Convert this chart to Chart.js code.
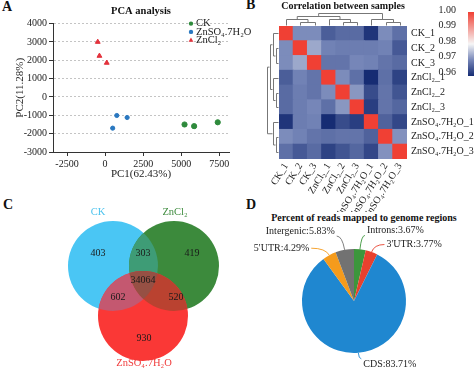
<!DOCTYPE html>
<html>
<head>
<meta charset="utf-8">
<script src="https://cdn.jsdelivr.net/npm/chart.js@4.4.0/dist/chart.umd.min.js"></script>
<style>
  html, body { margin: 0; padding: 0; background: #fff; }
  body { width: 474px; height: 372px; position: relative; overflow: hidden; font-family: 'Liberation Serif', serif; }
  canvas { position: absolute; }
  .tag { position: absolute; font: bold 14px 'Liberation Serif', serif; color: #111; line-height: 14px; }
  .ttl { position: absolute; font: bold 10px 'Liberation Serif', serif; color: #111; text-align: center; white-space: nowrap; }
</style>
</head>
<body>
<div class="tag" style="left:2px;top:0px">A</div>
<div class="tag" style="left:246px;top:-2px">B</div>
<div class="tag" style="left:3px;top:198px">C</div>
<div class="tag" style="left:246px;top:198px">D</div>
<div class="ttl" style="left:264px;top:212px;width:200px">Percent of reads mapped to genome regions</div>

<canvas id="pca" width="255" height="190" style="left:0;top:0"></canvas>
<canvas id="corr" width="219" height="212" style="left:255px;top:0"></canvas>
<canvas id="venn" width="237" height="182" style="left:0;top:190px"></canvas>
<canvas id="pie" width="230" height="167" style="left:244px;top:205px"></canvas>

<script>
// ---------- data ----------
// A: PCA scores
const PCA_GROUPS = ['CK', 'ZnSO₄.7H₂O', 'ZnCl₂'];
const CK_PTS = [{ x: 5220, y: -1500 }, { x: 5850, y: -1590 }, { x: 7400, y: -1380 }];
const ZNSO4_PTS = [{ x: 770, y: -1010 }, { x: 1450, y: -1120 }, { x: 500, y: -1700 }];
const ZNCL2_PTS = [{ x: -480, y: 3000 }, { x: -370, y: 2240 }, { x: 110, y: 1860 }];
const PC1_TICKS = [-2500, 0, 2500, 5000, 7500];
const PC2_TICKS = [4000, 3000, 2000, 1000, 0, -1000, -2000, -3000];

// B: sample correlation
const SAMPLES = ['CK_1', 'CK_2', 'CK_3', 'ZnCl₂_1', 'ZnCl₂_2', 'ZnCl₂_3',
  'ZnSO₄.7H₂O_1', 'ZnSO₄.7H₂O_2', 'ZnSO₄.7H₂O_3'];
const CORR = [
  [1.0000, 0.9705, 0.9705, 0.9655, 0.9670, 0.9670, 0.9610, 0.9705, 0.9675],
  [0.9705, 1.0000, 0.9730, 0.9695, 0.9690, 0.9690, 0.9690, 0.9695, 0.9650],
  [0.9705, 0.9730, 1.0000, 0.9680, 0.9680, 0.9700, 0.9695, 0.9680, 0.9670],
  [0.9655, 0.9695, 0.9680, 1.0000, 0.9705, 0.9675, 0.9600, 0.9675, 0.9625],
  [0.9670, 0.9690, 0.9680, 0.9705, 1.0000, 0.9715, 0.9635, 0.9680, 0.9645],
  [0.9670, 0.9690, 0.9700, 0.9675, 0.9715, 1.0000, 0.9620, 0.9680, 0.9665],
  [0.9610, 0.9690, 0.9695, 0.9600, 0.9635, 0.9620, 1.0000, 0.9660, 0.9630],
  [0.9705, 0.9695, 0.9680, 0.9675, 0.9680, 0.9680, 0.9660, 1.0000, 0.9710],
  [0.9675, 0.9650, 0.9670, 0.9625, 0.9645, 0.9665, 0.9630, 0.9710, 1.0000]
];
const CB_TICKS = [1.00, 0.99, 0.98, 0.97, 0.96];
const CLUSTER_TREE = [[[0, [1, 2]], [3, [4, 5]]], [6, [7, 8]]];

// C: venn counts
const VENN_SETS = ['CK', 'ZnCl₂', 'ZnSO₄.7H₂O'];
const VENN_REGIONS = ['CK', 'CK∩ZnCl₂', 'ZnCl₂', 'all', 'CK∩ZnSO₄', 'ZnCl₂∩ZnSO₄', 'ZnSO₄'];
const VENN_COUNTS = [403, 303, 419, 34064, 602, 520, 930];

// D: read distribution
const PIE_LABELS = ['Introns', "3'UTR", 'CDS', "5'UTR", 'Intergenic'];
const PIE_VALUES = [3.67, 3.77, 83.71, 4.29, 5.83];

// ---------- layout / style ----------
const SERIF = "'Liberation Serif', 'DejaVu Serif', serif";
const INK = '#222';
// venn geometry (diagram units, ~px)
const VENN_CIRCLES = [{ x: -30, y: 17, r: 45 }, { x: 31, y: 17, r: 45 }, { x: 0, y: -33, r: 45 }];
const VENN_SET_POS = [{ x: -45, y: 71 }, { x: 32, y: 71 }, { x: 1, y: -80 }];
const VENN_REGION_POS = [{ x: -45, y: 30 }, { x: 0, y: 30 }, { x: 49, y: 30 }, { x: 0, y: 3 },
  { x: -25, y: -14 }, { x: 33, y: -14 }, { x: 1, y: -55 }];
const VENN_FILL = ['rgb(74,198,244)', 'rgb(60,138,60)', 'rgb(250,56,54)'];
const VENN_PAIR_FILL = { '0-1': 'rgb(62,156,118)', '0-2': 'rgb(196,88,112)', '1-2': 'rgb(186,66,48)' };
const VENN_ALL_FILL = 'rgb(150,80,68)';
const VENN_TEXT = ['#4cc3ee', '#3d8b3d', '#f03a3a'];
const PIE_COLORS = ['#3c963c', '#e8412e', '#1f87d0', '#f59b1c', '#727272'];

function corrColor(v) {
  // navy -> mid blue -> white -> red
  const stops = [[0.96, [22, 44, 115]], [0.97, [118, 134, 184]], [0.98, [246, 246, 246]], [1.00, [240, 64, 52]]];
  let k = 0;
  while (k < stops.length - 2 && v > stops[k + 1][0]) k++;
  const [v0, a] = stops[k], [v1, b] = stops[k + 1];
  const t = Math.max(0, Math.min(1, (v - v0) / (v1 - v0)));
  return 'rgb(' + a.map((c, i) => Math.round(c + (b[i] - c) * t)).join(',') + ')';
}

Chart.defaults.font.family = SERIF;
Chart.defaults.color = INK;

// ---------- A: PCA scatter ----------
const pcaLegend = {
  id: 'pcaLegend',
  afterDraw(chart) {
    const { ctx, chartArea } = chart;
    ctx.save();
    ctx.font = '10.5px ' + SERIF;
    ctx.textBaseline = 'middle';
    chart.data.datasets.forEach((ds, i) => {
      const x = chartArea.right - 38, y = chartArea.top + i * 8.3;
      ctx.fillStyle = ds.backgroundColor;
      ctx.beginPath();
      if (ds.pointStyle === 'triangle') {
        ctx.moveTo(x, y - 2.6); ctx.lineTo(x + 2.4, y + 1.6); ctx.lineTo(x - 2.4, y + 1.6); ctx.closePath();
      } else {
        ctx.arc(x, y, 2.2, 0, Math.PI * 2);
      }
      ctx.fill();
      ctx.fillStyle = INK;
      ctx.fillText(ds.label, x + 5, y);
    });
    ctx.restore();
  }
};

new Chart(document.getElementById('pca'), {
  type: 'scatter',
  data: {
    datasets: [
      { label: PCA_GROUPS[0], data: CK_PTS, backgroundColor: '#2e8a3c', borderColor: '#2e8a3c', pointStyle: 'circle', pointRadius: 2.6 },
      { label: PCA_GROUPS[1], data: ZNSO4_PTS, backgroundColor: '#2a78c0', borderColor: '#2a78c0', pointStyle: 'circle', pointRadius: 2.1 },
      { label: PCA_GROUPS[2], data: ZNCL2_PTS, backgroundColor: '#e3323c', borderColor: '#e3323c', pointStyle: 'triangle', pointRadius: 2.8 }
    ]
  },
  options: {
    responsive: false, animation: false, events: [],
    layout: { padding: { top: 0, right: 26, bottom: 0, left: 0 } },
    plugins: {
      legend: { display: false }, tooltip: { enabled: false },
      title: { display: true, text: 'PCA analysis', fullSize: false, color: '#111',
        font: { family: SERIF, size: 10.5, weight: 'bold' }, padding: { top: 5, bottom: 6 } }
    },
    scales: {
      x: {
        type: 'linear', min: -3420, max: 8140,
        afterBuildTicks: s => { s.ticks = PC1_TICKS.map(v => ({ value: v })); },
        afterFit: s => { s.height = 38; },
        grid: { drawOnChartArea: false, tickLength: 4, tickColor: '#333' },
        border: { color: '#333' },
        ticks: { font: { size: 10 }, color: INK, padding: 2, callback: v => String(v) },
        title: { display: true, text: 'PC1(62.43%)', font: { size: 11 }, color: INK, padding: { top: 0, bottom: 9 } }
      },
      y: {
        type: 'linear', min: -3000, max: 4000,
        afterBuildTicks: s => { s.ticks = PC2_TICKS.map(v => ({ value: v })); },
        afterFit: s => { s.width = 53; },
        grid: { color: '#c4c4c4', tickLength: 4, tickColor: '#333' },
        border: { color: '#333', dash: [2, 2] },
        ticks: { font: { size: 10 }, color: INK, padding: 2, callback: v => String(v) },
        title: { display: true, text: 'PC2(11.28%)', font: { size: 11 }, color: INK, padding: { top: 14, bottom: 0 } }
      }
    }
  },
  plugins: [pcaLegend]
});

// ---------- B: correlation heatmap ----------
function walkTree(node, leafPos, drawJoin) {
  if (typeof node === 'number') return { p: leafPos(node), h: 0 };
  const a = walkTree(node[0], leafPos, drawJoin);
  const b = walkTree(node[1], leafPos, drawJoin);
  const h = Math.max(a.h, b.h) + 1;
  drawJoin(a, b, h);
  return { p: (a.p + b.p) / 2, h };
}

const corrDecor = {
  id: 'corrDecor',
  afterDraw(chart) {
    const { ctx, chartArea, scales } = chart;
    ctx.save();
    ctx.strokeStyle = '#777';
    ctx.lineWidth = 1;
    // column dendrogram
    const top = chartArea.top - 0.5, st = 3.2;
    walkTree(CLUSTER_TREE, i => Math.round(scales.x.getPixelForValue(i)) + 0.5, (a, b, h) => {
      const y = Math.round(top - h * st) + 0.5;
      ctx.beginPath();
      ctx.moveTo(a.p, top - a.h * st); ctx.lineTo(a.p, y); ctx.lineTo(b.p, y); ctx.lineTo(b.p, top - b.h * st);
      ctx.stroke();
    });
    // row dendrogram
    const left = chartArea.left - 0.5, sl = 3;
    walkTree(CLUSTER_TREE, i => Math.round(scales.y.getPixelForValue(8.5 - i)) + 0.5, (a, b, h) => {
      const x = Math.round(left - h * sl) + 0.5;
      ctx.beginPath();
      ctx.moveTo(left - a.h * sl, a.p); ctx.lineTo(x, a.p); ctx.lineTo(x, b.p); ctx.lineTo(left - b.h * sl, b.p);
      ctx.stroke();
    });
    // colour bar
    const cbX = chartArea.right + 61, cbW = 6, cbTop = 12, cbH = 64;
    const g = ctx.createLinearGradient(0, cbTop, 0, cbTop + cbH);
    for (let k = 0; k <= 20; k++) g.addColorStop(k / 20, corrColor(1 - 0.04 * k / 20));
    ctx.fillStyle = g;
    ctx.fillRect(cbX, cbTop, cbW, cbH);
    ctx.fillStyle = INK;
    ctx.font = '10px ' + SERIF;
    ctx.textAlign = 'right';
    ctx.textBaseline = 'middle';
    CB_TICKS.forEach(v => {
      ctx.fillText(v.toFixed(2), cbX - 12, cbTop - 2 + (1 - v) / 0.04 * (cbH - 2));
    });
    ctx.restore();
  }
};

new Chart(document.getElementById('corr'), {
  type: 'bar',
  data: {
    labels: SAMPLES,
    datasets: SAMPLES.map((s, r) => r).reverse().map(r => ({
      label: SAMPLES[r],
      data: CORR[r].map(() => 1),
      backgroundColor: CORR[r].map(corrColor)
    }))
  },
  options: {
    responsive: false, animation: false, events: [],
    layout: { padding: { left: 24, top: 0, right: 0, bottom: 0 } },
    datasets: { bar: { barPercentage: 1, categoryPercentage: 1, borderWidth: 0, inflateAmount: 0.5 } },
    plugins: {
      legend: { display: false }, tooltip: { enabled: false },
      title: { display: true, text: 'Correlation between samples', fullSize: false, color: '#111',
        font: { family: SERIF, size: 10, weight: 'bold' }, padding: { top: 0, bottom: 14 } }
    },
    scales: {
      x: {
        stacked: true,
        afterFit: s => { s.height = 53; },
        grid: { display: false, drawTicks: false }, border: { display: false },
        ticks: { autoSkip: false, maxRotation: 58, minRotation: 58, font: { size: 10 }, color: INK, padding: 2 }
      },
      y: {
        stacked: true, position: 'right', min: 0, max: 9,
        afterBuildTicks: s => { s.ticks = SAMPLES.map((_, i) => ({ value: 8.5 - i })); },
        afterFit: s => { s.width = 67; },
        grid: { display: false, drawTicks: false }, border: { display: false },
        ticks: { autoSkip: false, font: { size: 10 }, color: INK, padding: 4, callback: (v, i) => SAMPLES[i] }
      }
    }
  },
  plugins: [corrDecor]
});

// ---------- C: venn ----------
const vennPlugin = {
  id: 'vennPlugin',
  afterDatasetsDraw(chart) {
    const ctx = chart.ctx;
    const els = chart.getDatasetMeta(0).data;
    const path = k => {
      const e = els[k];
      ctx.beginPath();
      ctx.arc(e.x, e.y, VENN_CIRCLES[k].r, 0, Math.PI * 2);
    };
    [[0, 1], [0, 2], [1, 2]].forEach(([i, j]) => {
      ctx.save();
      path(i); ctx.clip();
      path(j); ctx.fillStyle = VENN_PAIR_FILL[i + '-' + j]; ctx.fill();
      ctx.restore();
    });
    ctx.save();
    path(0); ctx.clip();
    path(1); ctx.clip();
    path(2); ctx.fillStyle = VENN_ALL_FILL; ctx.fill();
    ctx.restore();
  },
  afterDraw(chart) {
    const { ctx, scales } = chart;
    ctx.save();
    ctx.textAlign = 'center';
    ctx.textBaseline = 'middle';
    ctx.font = '10px ' + SERIF;
    ctx.fillStyle = '#1a1a1a';
    VENN_COUNTS.forEach((n, i) => {
      const p = VENN_REGION_POS[i];
      ctx.fillText(String(n), scales.x.getPixelForValue(p.x), scales.y.getPixelForValue(p.y));
    });
    ctx.font = '10.5px ' + SERIF;
    VENN_SETS.forEach((s, i) => {
      const p = VENN_SET_POS[i];
      ctx.fillStyle = VENN_TEXT[i];
      ctx.fillText(s, scales.x.getPixelForValue(p.x), scales.y.getPixelForValue(p.y));
    });
    ctx.restore();
  }
};

new Chart(document.getElementById('venn'), {
  type: 'bubble',
  data: {
    datasets: [{
      label: 'sets',
      data: VENN_CIRCLES,
      backgroundColor: VENN_FILL,
      borderWidth: 0,
      clip: false
    }]
  },
  options: {
    responsive: false, animation: false, events: [],
    layout: { padding: 0, autoPadding: false },
    plugins: { legend: { display: false }, tooltip: { enabled: false } },
    scales: {
      x: { type: 'linear', display: false, min: -143, max: 94 },
      y: { type: 'linear', display: false, min: -89, max: 93 }
    }
  },
  plugins: [vennPlugin]
});

// ---------- D: pie ----------
const pieLabels = {
  id: 'pieLabels',
  afterDatasetsDraw(chart) {
    const ctx = chart.ctx;
    const arcs = chart.getDatasetMeta(0).data;
    ctx.save();
    ctx.font = '10px ' + SERIF;
    arcs.forEach((arc, i) => {
      const mid = (arc.startAngle + arc.endAngle) / 2, r = arc.outerRadius;
      const dx = Math.cos(mid), dy = Math.sin(mid);
      const side = dx >= 0 ? 1 : -1;
      const nearTop = dy < -0.96, nearBottom = dy > 0.8;
      const L = nearTop ? 14 : (nearBottom ? 6 : 8);
      const p1 = [arc.x + dx * r, arc.y + dy * r];
      const p2 = [arc.x + dx * (r + L), arc.y + dy * (r + L)];
      const p3 = [p2[0] + side * 30 * Math.abs(dx), p2[1]];
      ctx.strokeStyle = PIE_COLORS[i];
      ctx.lineWidth = 0.9;
      ctx.beginPath();
      ctx.moveTo(p1[0], p1[1]);
      ctx.quadraticCurveTo(p2[0], p2[1], p3[0], p3[1]);
      ctx.stroke();
      ctx.fillStyle = INK;
      const centred = Math.abs(dx) < 0.08;
      ctx.textAlign = centred ? 'center' : (side > 0 ? 'left' : 'right');
      ctx.textBaseline = nearTop ? 'bottom' : (nearBottom ? 'top' : 'middle');
      const tx = p3[0] + (centred ? 0 : side * 2);
      const ty = p3[1] + (nearBottom ? 1 : 0);
      ctx.fillText(PIE_LABELS[i] + ':' + PIE_VALUES[i].toFixed(2) + '%', tx, ty);
    });
    ctx.restore();
  }
};

new Chart(document.getElementById('pie'), {
  type: 'pie',
  data: {
    labels: PIE_LABELS,
    datasets: [{ data: PIE_VALUES, backgroundColor: PIE_COLORS, borderWidth: 0 }]
  },
  options: {
    responsive: false, animation: false, events: [],
    layout: { padding: { left: 0, right: 10, top: 44, bottom: 19 } },
    plugins: { legend: { display: false }, tooltip: { enabled: false } }
  },
  plugins: [pieLabels]
});
</script>
</body>
</html>
